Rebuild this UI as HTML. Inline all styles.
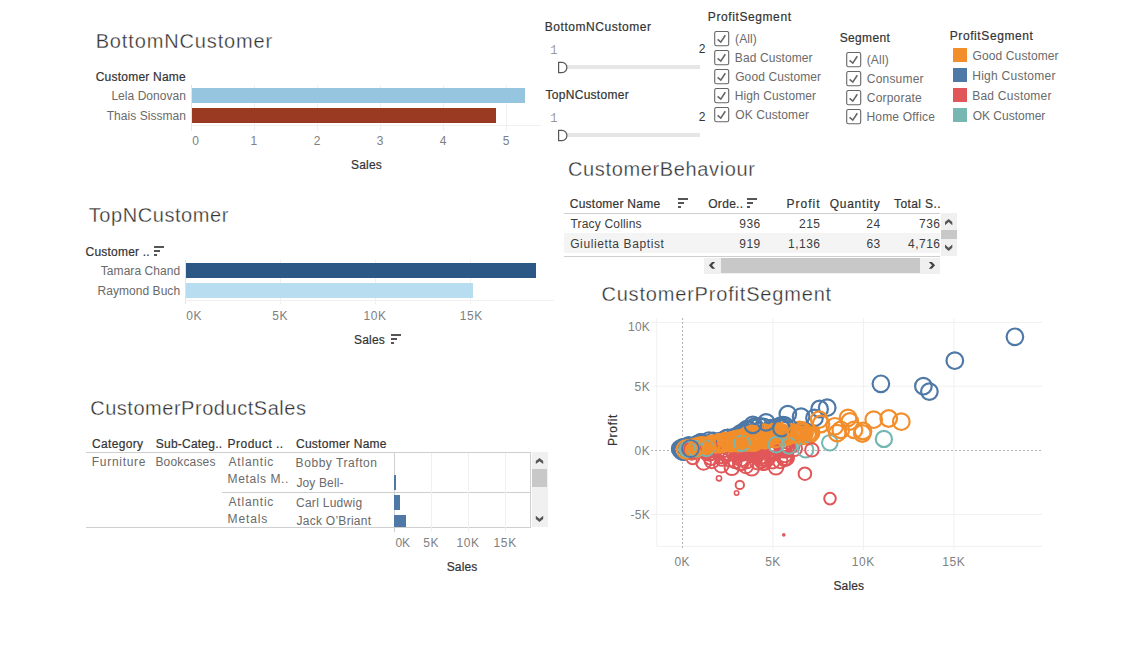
<!DOCTYPE html>
<html><head><meta charset="utf-8"><style>
html,body{margin:0;padding:0;background:#fff;width:1147px;height:668px;overflow:hidden;position:relative}
body{font-family:"Liberation Sans",sans-serif}
.t{position:absolute;white-space:nowrap}
.r{position:absolute}
</style></head><body>
<div class="t" style="left:95.66px;top:31.00px;font-size:20px;line-height:20px;color:#333;letter-spacing:0.863px;-webkit-text-stroke:0.3px #fff;">BottomNCustomer</div>
<div class="t" style="left:95.69px;top:71.00px;font-size:12px;line-height:12px;color:#333;-webkit-text-stroke:0.2px #333;letter-spacing:0.224px;">Customer Name</div>
<div class="t" style="left:111.38px;top:89.90px;font-size:12px;line-height:12px;color:#6a6a6a;letter-spacing:0.050px;">Lela Donovan</div>
<div class="t" style="left:106.69px;top:109.60px;font-size:12px;line-height:12px;color:#6a6a6a;letter-spacing:0.050px;">Thais Sissman</div>
<div class="r" style="left:254.00px;top:85.00px;width:1.00px;height:46.00px;background:#f0f0f0;"></div>
<div class="r" style="left:317.00px;top:85.00px;width:1.00px;height:46.00px;background:#f0f0f0;"></div>
<div class="r" style="left:380.00px;top:85.00px;width:1.00px;height:46.00px;background:#f0f0f0;"></div>
<div class="r" style="left:443.00px;top:85.00px;width:1.00px;height:46.00px;background:#f0f0f0;"></div>
<div class="r" style="left:506.00px;top:85.00px;width:1.00px;height:46.00px;background:#f0f0f0;"></div>
<div class="r" style="left:191.00px;top:85.00px;width:1.00px;height:46.00px;background:#e4e4e4;"></div>
<div class="r" style="left:191.00px;top:124.50px;width:350.00px;height:1.00px;background:#f0f0f0;"></div>
<div class="r" style="left:192.00px;top:88.00px;width:333.00px;height:15.00px;background:#95c5df;"></div>
<div class="r" style="left:192.00px;top:108.00px;width:304.00px;height:15.00px;background:#9b3a22;"></div>
<div class="t" style="left:192.23px;top:135.00px;font-size:12px;line-height:12px;color:#808080;">0</div>
<div class="t" style="left:250.50px;top:135.00px;font-size:12px;line-height:12px;color:#808080;">1</div>
<div class="t" style="left:313.66px;top:135.00px;font-size:12px;line-height:12px;color:#808080;">2</div>
<div class="t" style="left:376.70px;top:135.00px;font-size:12px;line-height:12px;color:#808080;">3</div>
<div class="t" style="left:439.70px;top:135.00px;font-size:12px;line-height:12px;color:#808080;">4</div>
<div class="t" style="left:502.68px;top:135.00px;font-size:12px;line-height:12px;color:#808080;">5</div>
<div class="t" style="left:351.06px;top:159.00px;font-size:12px;line-height:12px;color:#333;-webkit-text-stroke:0.2px #333;letter-spacing:0.165px;">Sales</div>
<div class="t" style="left:544.82px;top:21.00px;font-size:12px;line-height:12px;color:#333;-webkit-text-stroke:0.2px #333;letter-spacing:0.535px;">BottomNCustomer</div>
<div class="t" style="left:550.3px;top:44.9px;font-family:'Liberation Mono';font-size:12px;line-height:12px;color:#999">1</div>
<div class="t" style="left:698.80px;top:43.20px;font-size:12px;line-height:12px;color:#333;">2</div>
<div class="r" style="left:567.00px;top:65.00px;width:133.00px;height:4.00px;background:#e6e6e6;"></div>
<svg class="r" style="left:557px;top:61px" width="12" height="13"><path d="M1.6 1.4 H5 A4.9 5.1 0 0 1 5 11.6 H1.6 Z" fill="#fff" stroke="#555" stroke-width="1.2"/></svg>
<div class="t" style="left:545.53px;top:89.00px;font-size:12px;line-height:12px;color:#333;-webkit-text-stroke:0.2px #333;letter-spacing:0.286px;">TopNCustomer</div>
<div class="t" style="left:550.3px;top:112.9px;font-family:'Liberation Mono';font-size:12px;line-height:12px;color:#999">1</div>
<div class="t" style="left:698.80px;top:111.20px;font-size:12px;line-height:12px;color:#333;">2</div>
<div class="r" style="left:567.00px;top:133.00px;width:133.00px;height:4.00px;background:#e6e6e6;"></div>
<svg class="r" style="left:557px;top:129px" width="12" height="13"><path d="M1.6 1.4 H5 A4.9 5.1 0 0 1 5 11.6 H1.6 Z" fill="#fff" stroke="#555" stroke-width="1.2"/></svg>
<div class="t" style="left:707.82px;top:11.00px;font-size:12px;line-height:12px;color:#333;-webkit-text-stroke:0.2px #333;letter-spacing:0.595px;">ProfitSegment</div>
<svg class="r" style="left:714.00px;top:31.00px" width="16" height="16"><rect x="0.7" y="0.5" width="14" height="14.3" rx="1.8" fill="#fff" stroke="#666" stroke-width="1.1"/><path d="M3.6 8.4 L6.8 11.1 L11.3 4.2" fill="none" stroke="#666" stroke-width="1.6"/></svg>
<div class="t" style="left:735.06px;top:32.70px;font-size:12px;line-height:12px;color:#6a6a6a;letter-spacing:0.100px;">(All)</div>
<svg class="r" style="left:714.00px;top:50.05px" width="16" height="16"><rect x="0.7" y="0.5" width="14" height="14.3" rx="1.8" fill="#fff" stroke="#666" stroke-width="1.1"/><path d="M3.6 8.4 L6.8 11.1 L11.3 4.2" fill="none" stroke="#666" stroke-width="1.6"/></svg>
<div class="t" style="left:734.82px;top:51.75px;font-size:12px;line-height:12px;color:#6a6a6a;letter-spacing:0.100px;">Bad Customer</div>
<svg class="r" style="left:714.00px;top:69.10px" width="16" height="16"><rect x="0.7" y="0.5" width="14" height="14.3" rx="1.8" fill="#fff" stroke="#666" stroke-width="1.1"/><path d="M3.6 8.4 L6.8 11.1 L11.3 4.2" fill="none" stroke="#666" stroke-width="1.6"/></svg>
<div class="t" style="left:735.20px;top:70.80px;font-size:12px;line-height:12px;color:#6a6a6a;letter-spacing:0.100px;">Good Customer</div>
<svg class="r" style="left:714.00px;top:88.15px" width="16" height="16"><rect x="0.7" y="0.5" width="14" height="14.3" rx="1.8" fill="#fff" stroke="#666" stroke-width="1.1"/><path d="M3.6 8.4 L6.8 11.1 L11.3 4.2" fill="none" stroke="#666" stroke-width="1.6"/></svg>
<div class="t" style="left:734.82px;top:89.85px;font-size:12px;line-height:12px;color:#6a6a6a;letter-spacing:0.100px;">High Customer</div>
<svg class="r" style="left:714.00px;top:107.20px" width="16" height="16"><rect x="0.7" y="0.5" width="14" height="14.3" rx="1.8" fill="#fff" stroke="#666" stroke-width="1.1"/><path d="M3.6 8.4 L6.8 11.1 L11.3 4.2" fill="none" stroke="#666" stroke-width="1.6"/></svg>
<div class="t" style="left:735.23px;top:108.90px;font-size:12px;line-height:12px;color:#6a6a6a;letter-spacing:0.100px;">OK Customer</div>
<div class="t" style="left:839.66px;top:31.50px;font-size:12px;line-height:12px;color:#333;-webkit-text-stroke:0.2px #333;letter-spacing:0.351px;">Segment</div>
<svg class="r" style="left:846.00px;top:52.30px" width="16" height="16"><rect x="0.7" y="0.5" width="14" height="14.3" rx="1.8" fill="#fff" stroke="#666" stroke-width="1.1"/><path d="M3.6 8.4 L6.8 11.1 L11.3 4.2" fill="none" stroke="#666" stroke-width="1.6"/></svg>
<div class="t" style="left:866.66px;top:53.50px;font-size:12px;line-height:12px;color:#6a6a6a;letter-spacing:0.200px;">(All)</div>
<svg class="r" style="left:846.00px;top:71.30px" width="16" height="16"><rect x="0.7" y="0.5" width="14" height="14.3" rx="1.8" fill="#fff" stroke="#666" stroke-width="1.1"/><path d="M3.6 8.4 L6.8 11.1 L11.3 4.2" fill="none" stroke="#666" stroke-width="1.6"/></svg>
<div class="t" style="left:866.79px;top:72.50px;font-size:12px;line-height:12px;color:#6a6a6a;letter-spacing:0.200px;">Consumer</div>
<svg class="r" style="left:846.00px;top:90.30px" width="16" height="16"><rect x="0.7" y="0.5" width="14" height="14.3" rx="1.8" fill="#fff" stroke="#666" stroke-width="1.1"/><path d="M3.6 8.4 L6.8 11.1 L11.3 4.2" fill="none" stroke="#666" stroke-width="1.6"/></svg>
<div class="t" style="left:866.79px;top:91.50px;font-size:12px;line-height:12px;color:#6a6a6a;letter-spacing:0.200px;">Corporate</div>
<svg class="r" style="left:846.00px;top:109.30px" width="16" height="16"><rect x="0.7" y="0.5" width="14" height="14.3" rx="1.8" fill="#fff" stroke="#666" stroke-width="1.1"/><path d="M3.6 8.4 L6.8 11.1 L11.3 4.2" fill="none" stroke="#666" stroke-width="1.6"/></svg>
<div class="t" style="left:866.42px;top:110.50px;font-size:12px;line-height:12px;color:#6a6a6a;letter-spacing:0.200px;">Home Office</div>
<div class="t" style="left:949.72px;top:29.90px;font-size:12px;line-height:12px;color:#333;-webkit-text-stroke:0.2px #333;letter-spacing:0.595px;">ProfitSegment</div>
<div class="r" style="left:953.00px;top:48.00px;width:14.00px;height:14.00px;background:#f28e2b;"></div>
<div class="t" style="left:972.60px;top:50.20px;font-size:12px;line-height:12px;color:#6a6a6a;letter-spacing:0.109px;">Good Customer</div>
<div class="r" style="left:953.00px;top:68.00px;width:14.00px;height:14.00px;background:#4e79a7;"></div>
<div class="t" style="left:972.22px;top:70.20px;font-size:12px;line-height:12px;color:#6a6a6a;letter-spacing:0.272px;">High Customer</div>
<div class="r" style="left:953.00px;top:88.00px;width:14.00px;height:14.00px;background:#e15759;"></div>
<div class="t" style="left:972.22px;top:90.20px;font-size:12px;line-height:12px;color:#6a6a6a;letter-spacing:0.235px;">Bad Customer</div>
<div class="r" style="left:953.00px;top:108.00px;width:14.00px;height:14.00px;background:#76b7b2;"></div>
<div class="t" style="left:972.63px;top:110.20px;font-size:12px;line-height:12px;color:#6a6a6a;">OK Customer</div>
<div class="t" style="left:88.75px;top:205.20px;font-size:20px;line-height:20px;color:#333;letter-spacing:0.564px;-webkit-text-stroke:0.3px #fff;">TopNCustomer</div>
<div class="t" style="left:85.59px;top:245.70px;font-size:12px;line-height:12px;color:#333;-webkit-text-stroke:0.2px #333;letter-spacing:0.209px;">Customer ..</div>
<div class="r" style="left:154.00px;top:246.00px;width:10.00px;height:2.00px;background:#555;"></div>
<div class="r" style="left:154.00px;top:250.00px;width:6.00px;height:2.00px;background:#555;"></div>
<div class="r" style="left:154.00px;top:254.00px;width:3.00px;height:2.00px;background:#555;"></div>
<div class="t" style="left:100.82px;top:264.90px;font-size:12px;line-height:12px;color:#6a6a6a;letter-spacing:0.050px;">Tamara Chand</div>
<div class="t" style="left:97.49px;top:284.60px;font-size:12px;line-height:12px;color:#6a6a6a;letter-spacing:0.050px;">Raymond Buch</div>
<div class="r" style="left:279.80px;top:260.00px;width:1.00px;height:44.00px;background:#f0f0f0;"></div>
<div class="r" style="left:374.60px;top:260.00px;width:1.00px;height:44.00px;background:#f0f0f0;"></div>
<div class="r" style="left:470.40px;top:260.00px;width:1.00px;height:44.00px;background:#f0f0f0;"></div>
<div class="r" style="left:185.00px;top:260.00px;width:1.00px;height:44.00px;background:#e2e2e2;"></div>
<div class="r" style="left:185.00px;top:299.50px;width:369.00px;height:1.00px;background:#f0f0f0;"></div>
<div class="r" style="left:186.00px;top:263.20px;width:349.80px;height:14.60px;background:#2c5885;"></div>
<div class="r" style="left:186.00px;top:283.10px;width:286.90px;height:14.90px;background:#b8dcf0;"></div>
<div class="t" style="left:186.23px;top:310.00px;font-size:12px;line-height:12px;color:#808080;letter-spacing:0.626px;">0K</div>
<div class="t" style="left:272.24px;top:310.00px;font-size:12px;line-height:12px;color:#808080;letter-spacing:0.500px;">5K</div>
<div class="t" style="left:363.54px;top:310.00px;font-size:12px;line-height:12px;color:#808080;letter-spacing:0.500px;">10K</div>
<div class="t" style="left:459.84px;top:310.00px;font-size:12px;line-height:12px;color:#808080;letter-spacing:0.500px;">15K</div>
<div class="t" style="left:354.06px;top:334.00px;font-size:12px;line-height:12px;color:#333;-webkit-text-stroke:0.2px #333;letter-spacing:0.165px;">Sales</div>
<div class="r" style="left:391.00px;top:334.00px;width:10.00px;height:2.00px;background:#555;"></div>
<div class="r" style="left:391.00px;top:338.00px;width:6.00px;height:2.00px;background:#555;"></div>
<div class="r" style="left:391.00px;top:342.00px;width:3.00px;height:2.00px;background:#555;"></div>
<div class="t" style="left:90.18px;top:397.90px;font-size:20px;line-height:20px;color:#333;letter-spacing:0.532px;-webkit-text-stroke:0.3px #fff;">CustomerProductSales</div>
<div class="t" style="left:91.99px;top:438.00px;font-size:12px;line-height:12px;color:#333;-webkit-text-stroke:0.2px #333;letter-spacing:0.335px;">Category</div>
<div class="t" style="left:155.86px;top:438.00px;font-size:12px;line-height:12px;color:#333;-webkit-text-stroke:0.2px #333;letter-spacing:0.211px;">Sub-Categ..</div>
<div class="t" style="left:227.62px;top:438.00px;font-size:12px;line-height:12px;color:#333;-webkit-text-stroke:0.2px #333;letter-spacing:0.458px;">Product ..</div>
<div class="t" style="left:295.99px;top:438.00px;font-size:12px;line-height:12px;color:#333;-webkit-text-stroke:0.2px #333;letter-spacing:0.266px;">Customer Name</div>
<div class="r" style="left:86.00px;top:452.00px;width:445.00px;height:1.00px;background:#cfcfcf;"></div>
<div class="r" style="left:86.00px;top:527.00px;width:445.00px;height:1.00px;background:#cfcfcf;"></div>
<div class="r" style="left:222.00px;top:492.20px;width:309.00px;height:1.00px;background:#cfcfcf;"></div>
<div class="r" style="left:431.00px;top:453.00px;width:1.00px;height:79.00px;background:#f0f0f0;"></div>
<div class="r" style="left:467.90px;top:453.00px;width:1.00px;height:79.00px;background:#f0f0f0;"></div>
<div class="r" style="left:505.00px;top:453.00px;width:1.00px;height:79.00px;background:#f0f0f0;"></div>
<div class="r" style="left:394.00px;top:453.00px;width:1.00px;height:79.00px;background:#cfcfcf;"></div>
<div class="r" style="left:530.20px;top:452.00px;width:1.00px;height:76.00px;background:#cfcfcf;"></div>
<div class="r" style="left:394.40px;top:475.40px;width:1.50px;height:14.30px;background:#4e79a7;"></div>
<div class="r" style="left:394.40px;top:494.90px;width:5.50px;height:14.70px;background:#4e79a7;"></div>
<div class="r" style="left:394.40px;top:515.20px;width:11.60px;height:12.00px;background:#4e79a7;"></div>
<div class="t" style="left:91.82px;top:456.00px;font-size:12px;line-height:12px;color:#6a6a6a;letter-spacing:0.701px;">Furniture</div>
<div class="t" style="left:155.42px;top:456.00px;font-size:12px;line-height:12px;color:#6a6a6a;letter-spacing:0.165px;">Bookcases</div>
<div class="t" style="left:228.58px;top:456.10px;font-size:12px;line-height:12px;color:#6a6a6a;letter-spacing:0.770px;">Atlantic</div>
<div class="t" style="left:227.62px;top:472.60px;font-size:12px;line-height:12px;color:#6a6a6a;letter-spacing:0.593px;">Metals M..</div>
<div class="t" style="left:295.62px;top:456.90px;font-size:12px;line-height:12px;color:#6a6a6a;letter-spacing:0.555px;">Bobby Trafton</div>
<div class="t" style="left:296.41px;top:476.50px;font-size:12px;line-height:12px;color:#6a6a6a;letter-spacing:0.139px;">Joy Bell-</div>
<div class="t" style="left:228.58px;top:496.10px;font-size:12px;line-height:12px;color:#6a6a6a;letter-spacing:0.770px;">Atlantic</div>
<div class="t" style="left:227.62px;top:512.60px;font-size:12px;line-height:12px;color:#6a6a6a;letter-spacing:0.855px;">Metals</div>
<div class="t" style="left:295.99px;top:496.90px;font-size:12px;line-height:12px;color:#6a6a6a;letter-spacing:0.272px;">Carl Ludwig</div>
<div class="t" style="left:296.41px;top:515.30px;font-size:12px;line-height:12px;color:#6a6a6a;letter-spacing:0.277px;">Jack O&#8217;Briant</div>
<div class="r" style="left:532.00px;top:452.30px;width:16.00px;height:74.50px;background:#f0f0f0;"></div>
<div class="r" style="left:532.00px;top:469.00px;width:15.00px;height:18.00px;background:#c8c8c8;"></div>
<div class="t" style="left:395.53px;top:537.30px;font-size:12px;line-height:12px;color:#808080;letter-spacing:-0.074px;">0K</div>
<div class="t" style="left:423.32px;top:537.30px;font-size:12px;line-height:12px;color:#808080;letter-spacing:0.638px;">5K</div>
<div class="t" style="left:456.39px;top:537.30px;font-size:12px;line-height:12px;color:#808080;letter-spacing:0.699px;">10K</div>
<div class="t" style="left:493.49px;top:537.30px;font-size:12px;line-height:12px;color:#808080;letter-spacing:0.649px;">15K</div>
<div class="t" style="left:446.76px;top:560.80px;font-size:12px;line-height:12px;color:#333;-webkit-text-stroke:0.2px #333;letter-spacing:0.115px;">Sales</div>
<div class="t" style="left:567.98px;top:159.20px;font-size:20px;line-height:20px;color:#333;letter-spacing:0.644px;-webkit-text-stroke:0.3px #fff;">CustomerBehaviour</div>
<div class="t" style="left:569.79px;top:198.00px;font-size:12px;line-height:12px;color:#333;-webkit-text-stroke:0.2px #333;letter-spacing:0.249px;">Customer Name</div>
<div class="r" style="left:678.00px;top:198.00px;width:10.00px;height:2.00px;background:#555;"></div>
<div class="r" style="left:678.00px;top:202.00px;width:6.00px;height:2.00px;background:#555;"></div>
<div class="r" style="left:678.00px;top:206.00px;width:3.00px;height:2.00px;background:#555;"></div>
<div class="t" style="left:708.23px;top:198.00px;font-size:12px;line-height:12px;color:#333;-webkit-text-stroke:0.2px #333;letter-spacing:0.304px;">Orde..</div>
<div class="r" style="left:747.00px;top:198.00px;width:10.00px;height:2.00px;background:#555;"></div>
<div class="r" style="left:747.00px;top:202.00px;width:6.00px;height:2.00px;background:#555;"></div>
<div class="r" style="left:747.00px;top:206.00px;width:3.00px;height:2.00px;background:#555;"></div>
<div class="t" style="left:786.52px;top:198.00px;font-size:12px;line-height:12px;color:#333;-webkit-text-stroke:0.2px #333;letter-spacing:1.013px;">Profit</div>
<div class="t" style="left:829.63px;top:198.00px;font-size:12px;line-height:12px;color:#333;-webkit-text-stroke:0.2px #333;letter-spacing:0.772px;">Quantity</div>
<div class="t" style="left:894.03px;top:198.00px;font-size:12px;line-height:12px;color:#333;-webkit-text-stroke:0.2px #333;letter-spacing:0.402px;">Total S..</div>
<div class="r" style="left:564.00px;top:213.00px;width:376.20px;height:1.00px;background:#cfcfcf;"></div>
<div class="r" style="left:564.00px;top:233.20px;width:376.20px;height:19.80px;background:#f4f4f4;"></div>
<div class="r" style="left:564.00px;top:256.00px;width:376.20px;height:1.00px;background:#cfcfcf;"></div>
<div class="t" style="left:570.53px;top:217.70px;font-size:12px;line-height:12px;color:#3c3c3c;letter-spacing:0.175px;">Tracy Collins</div>
<div class="t" style="left:570.20px;top:237.50px;font-size:12px;line-height:12px;color:#3c3c3c;letter-spacing:0.603px;">Giulietta Baptist</div>
<div class="t" style="left:739.21px;top:217.70px;font-size:12px;line-height:12px;color:#3c3c3c;letter-spacing:0.500px;">936</div>
<div class="t" style="left:798.98px;top:217.70px;font-size:12px;line-height:12px;color:#3c3c3c;letter-spacing:0.500px;">215</div>
<div class="t" style="left:866.21px;top:217.70px;font-size:12px;line-height:12px;color:#3c3c3c;letter-spacing:0.500px;">24</div>
<div class="t" style="left:919.01px;top:217.70px;font-size:12px;line-height:12px;color:#3c3c3c;letter-spacing:0.500px;">736</div>
<div class="t" style="left:739.25px;top:237.50px;font-size:12px;line-height:12px;color:#3c3c3c;letter-spacing:0.500px;">919</div>
<div class="t" style="left:788.00px;top:237.50px;font-size:12px;line-height:12px;color:#3c3c3c;letter-spacing:0.500px;">1,136</div>
<div class="t" style="left:866.38px;top:237.50px;font-size:12px;line-height:12px;color:#3c3c3c;letter-spacing:0.500px;">63</div>
<div class="t" style="left:908.00px;top:237.50px;font-size:12px;line-height:12px;color:#3c3c3c;letter-spacing:0.500px;">4,716</div>
<div class="r" style="left:941.30px;top:213.00px;width:15.50px;height:42.70px;background:#f0f0f0;"></div>
<div class="r" style="left:941.30px;top:230.20px;width:15.50px;height:8.60px;background:#c8c8c8;"></div>
<div class="r" style="left:704.30px;top:258.20px;width:235.70px;height:15.60px;background:#f0f0f0;"></div>
<div class="r" style="left:721.00px;top:258.20px;width:199.00px;height:15.00px;background:#c8c8c8;"></div>
<svg class="r" style="left:0;top:0" width="1147" height="668"><polygon points="535.80,464.00 535.80,460.90 539.50,458.10 543.20,460.90 543.20,464.00 539.50,461.20" fill="#555"/></svg>
<svg class="r" style="left:0;top:0" width="1147" height="668"><polygon points="535.80,515.80 535.80,518.90 539.50,521.90 543.20,518.90 543.20,515.80 539.50,518.80" fill="#555"/></svg>
<svg class="r" style="left:0;top:0" width="1147" height="668"><polygon points="945.00,225.20 945.00,222.10 948.65,218.90 952.30,222.10 952.30,225.20 948.65,222.00" fill="#555"/></svg>
<svg class="r" style="left:0;top:0" width="1147" height="668"><polygon points="945.00,244.60 945.00,247.70 948.65,250.90 952.30,247.70 952.30,244.60 948.65,247.80" fill="#555"/></svg>
<svg class="r" style="left:0;top:0" width="1147" height="668"><polygon points="715.20,261.90 712.10,261.90 708.90,265.35 712.10,268.80 715.20,268.80 712.00,265.35" fill="#444"/></svg>
<svg class="r" style="left:0;top:0" width="1147" height="668"><polygon points="928.80,261.90 931.90,261.90 935.10,265.35 931.90,268.80 928.80,268.80 932.00,265.35" fill="#444"/></svg>
<div class="t" style="left:601.38px;top:283.90px;font-size:20px;line-height:20px;color:#333;letter-spacing:0.818px;-webkit-text-stroke:0.3px #fff;">CustomerProfitSegment</div>
<svg class="r" style="left:0;top:0" width="1147" height="668"><line x1="651" y1="322.4" x2="1042" y2="322.4" stroke="#f0f0f0" stroke-width="1"/><line x1="651" y1="386.2" x2="1042" y2="386.2" stroke="#f0f0f0" stroke-width="1"/><line x1="651" y1="514.4" x2="1042" y2="514.4" stroke="#f0f0f0" stroke-width="1"/><line x1="656.8" y1="546.3" x2="1042" y2="546.3" stroke="#f0f0f0" stroke-width="1"/><line x1="656.8" y1="318" x2="656.8" y2="546.3" stroke="#f0f0f0" stroke-width="1"/><line x1="772.9" y1="318" x2="772.9" y2="550" stroke="#f0f0f0" stroke-width="1"/><line x1="863.4" y1="318" x2="863.4" y2="550" stroke="#f0f0f0" stroke-width="1"/><line x1="953.9" y1="318" x2="953.9" y2="550" stroke="#f0f0f0" stroke-width="1"/><line x1="651" y1="450.5" x2="1042" y2="450.5" stroke="#b4b4b4" stroke-width="1" stroke-dasharray="2 2"/><line x1="682.5" y1="318" x2="682.5" y2="550" stroke="#b4b4b4" stroke-width="1" stroke-dasharray="2 2"/><circle cx="726.4" cy="438.3" r="8.3" fill="none" stroke="#4e79a7" stroke-width="2.0"/><circle cx="727.8" cy="437.8" r="8.1" fill="none" stroke="#4e79a7" stroke-width="2.0"/><circle cx="697.8" cy="443.8" r="8.1" fill="none" stroke="#4e79a7" stroke-width="2.0"/><circle cx="762.8" cy="426.4" r="7.8" fill="none" stroke="#4e79a7" stroke-width="2.0"/><circle cx="687.7" cy="447.5" r="8.2" fill="none" stroke="#4e79a7" stroke-width="2.0"/><circle cx="682.5" cy="449.5" r="8.4" fill="none" stroke="#4e79a7" stroke-width="2.0"/><circle cx="748.0" cy="430.0" r="7.7" fill="none" stroke="#4e79a7" stroke-width="2.0"/><circle cx="679.6" cy="449.4" r="7.6" fill="none" stroke="#4e79a7" stroke-width="2.0"/><circle cx="698.4" cy="442.9" r="7.6" fill="none" stroke="#4e79a7" stroke-width="2.0"/><circle cx="727.6" cy="437.7" r="8.3" fill="none" stroke="#4e79a7" stroke-width="2.0"/><circle cx="733.5" cy="436.8" r="8.0" fill="none" stroke="#4e79a7" stroke-width="2.0"/><circle cx="748.9" cy="429.3" r="7.8" fill="none" stroke="#4e79a7" stroke-width="2.0"/><circle cx="784.7" cy="425.3" r="8.3" fill="none" stroke="#4e79a7" stroke-width="2.0"/><circle cx="753.7" cy="427.2" r="7.8" fill="none" stroke="#4e79a7" stroke-width="2.0"/><circle cx="708.9" cy="440.5" r="8.2" fill="none" stroke="#4e79a7" stroke-width="2.0"/><circle cx="720.8" cy="440.3" r="7.9" fill="none" stroke="#4e79a7" stroke-width="2.0"/><circle cx="780.5" cy="426.2" r="7.6" fill="none" stroke="#4e79a7" stroke-width="2.0"/><circle cx="700.4" cy="444.0" r="8.0" fill="none" stroke="#4e79a7" stroke-width="2.0"/><circle cx="782.9" cy="424.4" r="7.7" fill="none" stroke="#4e79a7" stroke-width="2.0"/><circle cx="745.4" cy="431.3" r="7.8" fill="none" stroke="#4e79a7" stroke-width="2.0"/><circle cx="687.3" cy="446.4" r="8.4" fill="none" stroke="#4e79a7" stroke-width="2.0"/><circle cx="759.1" cy="425.9" r="7.8" fill="none" stroke="#4e79a7" stroke-width="2.0"/><circle cx="688.8" cy="445.3" r="8.2" fill="none" stroke="#4e79a7" stroke-width="2.0"/><circle cx="697.0" cy="444.1" r="8.0" fill="none" stroke="#4e79a7" stroke-width="2.0"/><circle cx="698.4" cy="444.1" r="7.7" fill="none" stroke="#4e79a7" stroke-width="2.0"/><circle cx="746.9" cy="429.2" r="7.9" fill="none" stroke="#4e79a7" stroke-width="2.0"/><circle cx="700.8" cy="442.3" r="8.4" fill="none" stroke="#4e79a7" stroke-width="2.0"/><circle cx="764.0" cy="427.1" r="8.3" fill="none" stroke="#4e79a7" stroke-width="2.0"/><circle cx="700.5" cy="442.7" r="8.3" fill="none" stroke="#4e79a7" stroke-width="2.0"/><circle cx="746.7" cy="429.2" r="8.4" fill="none" stroke="#4e79a7" stroke-width="2.0"/><circle cx="700.8" cy="442.3" r="8.2" fill="none" stroke="#4e79a7" stroke-width="2.0"/><circle cx="713.2" cy="440.3" r="7.7" fill="none" stroke="#4e79a7" stroke-width="2.0"/><circle cx="687.6" cy="447.0" r="7.8" fill="none" stroke="#4e79a7" stroke-width="2.0"/><circle cx="742.3" cy="432.1" r="8.0" fill="none" stroke="#4e79a7" stroke-width="2.0"/><circle cx="780.6" cy="425.3" r="8.1" fill="none" stroke="#4e79a7" stroke-width="2.0"/><circle cx="770.7" cy="427.4" r="7.7" fill="none" stroke="#4e79a7" stroke-width="2.0"/><circle cx="775.2" cy="427.7" r="7.8" fill="none" stroke="#4e79a7" stroke-width="2.0"/><circle cx="698.3" cy="444.2" r="8.4" fill="none" stroke="#4e79a7" stroke-width="2.0"/><circle cx="699.0" cy="444.5" r="8.3" fill="none" stroke="#4e79a7" stroke-width="2.0"/><circle cx="742.6" cy="432.1" r="7.7" fill="none" stroke="#4e79a7" stroke-width="2.0"/><circle cx="682.1" cy="449.6" r="7.8" fill="none" stroke="#4e79a7" stroke-width="2.0"/><circle cx="753.4" cy="427.2" r="8.3" fill="none" stroke="#4e79a7" stroke-width="2.0"/><circle cx="741.8" cy="432.3" r="7.7" fill="none" stroke="#4e79a7" stroke-width="2.0"/><circle cx="755.1" cy="426.1" r="7.8" fill="none" stroke="#4e79a7" stroke-width="2.0"/><circle cx="737.9" cy="436.4" r="8.1" fill="none" stroke="#4e79a7" stroke-width="2.0"/><circle cx="708.0" cy="442.7" r="7.8" fill="none" stroke="#4e79a7" stroke-width="2.0"/><circle cx="679.8" cy="448.6" r="8.0" fill="none" stroke="#4e79a7" stroke-width="2.0"/><circle cx="684.5" cy="446.9" r="7.9" fill="none" stroke="#4e79a7" stroke-width="2.0"/><circle cx="739.2" cy="433.7" r="7.9" fill="none" stroke="#4e79a7" stroke-width="2.0"/><circle cx="773.3" cy="428.7" r="8.1" fill="none" stroke="#4e79a7" stroke-width="2.0"/><circle cx="683.4" cy="449.5" r="10.3" fill="none" stroke="#4e79a7" stroke-width="2.2"/><circle cx="684.2" cy="449.2" r="9.9" fill="none" stroke="#4e79a7" stroke-width="2.2"/><circle cx="683.0" cy="450.0" r="9.6" fill="none" stroke="#4e79a7" stroke-width="2.2"/><circle cx="762.0" cy="457.0" r="6.6" fill="none" stroke="#e15759" stroke-width="2.0"/><circle cx="691.8" cy="451.7" r="8.0" fill="none" stroke="#e15759" stroke-width="2.0"/><circle cx="763.0" cy="463.7" r="6.3" fill="none" stroke="#e15759" stroke-width="2.0"/><circle cx="756.1" cy="455.6" r="7.7" fill="none" stroke="#e15759" stroke-width="2.0"/><circle cx="722.1" cy="459.4" r="6.4" fill="none" stroke="#e15759" stroke-width="2.0"/><circle cx="746.4" cy="460.5" r="8.0" fill="none" stroke="#e15759" stroke-width="2.0"/><circle cx="766.9" cy="458.7" r="7.8" fill="none" stroke="#e15759" stroke-width="2.0"/><circle cx="785.9" cy="449.8" r="7.6" fill="none" stroke="#e15759" stroke-width="2.0"/><circle cx="784.4" cy="458.9" r="7.1" fill="none" stroke="#e15759" stroke-width="2.0"/><circle cx="772.6" cy="461.0" r="7.4" fill="none" stroke="#e15759" stroke-width="2.0"/><circle cx="754.9" cy="453.8" r="7.4" fill="none" stroke="#e15759" stroke-width="2.0"/><circle cx="753.1" cy="448.4" r="7.5" fill="none" stroke="#e15759" stroke-width="2.0"/><circle cx="794.3" cy="448.4" r="7.7" fill="none" stroke="#e15759" stroke-width="2.0"/><circle cx="729.6" cy="459.1" r="7.4" fill="none" stroke="#e15759" stroke-width="2.0"/><circle cx="735.1" cy="461.8" r="6.5" fill="none" stroke="#e15759" stroke-width="2.0"/><circle cx="768.3" cy="446.6" r="7.4" fill="none" stroke="#e15759" stroke-width="2.0"/><circle cx="739.5" cy="451.5" r="7.6" fill="none" stroke="#e15759" stroke-width="2.0"/><circle cx="741.2" cy="458.2" r="8.0" fill="none" stroke="#e15759" stroke-width="2.0"/><circle cx="715.4" cy="449.8" r="6.9" fill="none" stroke="#e15759" stroke-width="2.0"/><circle cx="760.6" cy="450.2" r="6.6" fill="none" stroke="#e15759" stroke-width="2.0"/><circle cx="784.9" cy="455.2" r="7.1" fill="none" stroke="#e15759" stroke-width="2.0"/><circle cx="783.4" cy="449.9" r="7.6" fill="none" stroke="#e15759" stroke-width="2.0"/><circle cx="709.2" cy="452.9" r="7.8" fill="none" stroke="#e15759" stroke-width="2.0"/><circle cx="785.8" cy="458.7" r="7.0" fill="none" stroke="#e15759" stroke-width="2.0"/><circle cx="750.4" cy="452.9" r="6.6" fill="none" stroke="#e15759" stroke-width="2.0"/><circle cx="741.1" cy="462.1" r="7.9" fill="none" stroke="#e15759" stroke-width="2.0"/><circle cx="764.1" cy="463.3" r="6.8" fill="none" stroke="#e15759" stroke-width="2.0"/><circle cx="706.1" cy="453.0" r="6.8" fill="none" stroke="#e15759" stroke-width="2.0"/><circle cx="710.9" cy="452.8" r="7.5" fill="none" stroke="#e15759" stroke-width="2.0"/><circle cx="740.8" cy="453.0" r="7.9" fill="none" stroke="#e15759" stroke-width="2.0"/><circle cx="793.1" cy="445.8" r="6.4" fill="none" stroke="#e15759" stroke-width="2.0"/><circle cx="691.4" cy="452.5" r="6.4" fill="none" stroke="#e15759" stroke-width="2.0"/><circle cx="763.8" cy="456.6" r="6.9" fill="none" stroke="#e15759" stroke-width="2.0"/><circle cx="772.7" cy="446.2" r="6.6" fill="none" stroke="#e15759" stroke-width="2.0"/><circle cx="736.7" cy="448.1" r="7.9" fill="none" stroke="#e15759" stroke-width="2.0"/><circle cx="713.4" cy="451.0" r="6.4" fill="none" stroke="#e15759" stroke-width="2.0"/><circle cx="755.3" cy="455.0" r="7.5" fill="none" stroke="#e15759" stroke-width="2.0"/><circle cx="758.1" cy="461.4" r="8.1" fill="none" stroke="#e15759" stroke-width="2.0"/><circle cx="761.2" cy="450.1" r="7.2" fill="none" stroke="#e15759" stroke-width="2.0"/><circle cx="707.1" cy="451.0" r="7.2" fill="none" stroke="#e15759" stroke-width="2.0"/><circle cx="761.4" cy="448.5" r="7.0" fill="none" stroke="#e15759" stroke-width="2.0"/><circle cx="724.6" cy="453.5" r="7.4" fill="none" stroke="#e15759" stroke-width="2.0"/><circle cx="751.4" cy="452.5" r="7.2" fill="none" stroke="#e15759" stroke-width="2.0"/><circle cx="769.2" cy="452.5" r="6.6" fill="none" stroke="#e15759" stroke-width="2.0"/><circle cx="783.3" cy="449.7" r="6.7" fill="none" stroke="#e15759" stroke-width="2.0"/><circle cx="735.4" cy="452.5" r="8.0" fill="none" stroke="#e15759" stroke-width="2.0"/><circle cx="727.7" cy="452.6" r="8.0" fill="none" stroke="#e15759" stroke-width="2.0"/><circle cx="769.7" cy="452.7" r="7.3" fill="none" stroke="#e15759" stroke-width="2.0"/><circle cx="755.1" cy="449.0" r="7.7" fill="none" stroke="#e15759" stroke-width="2.0"/><circle cx="771.8" cy="450.8" r="7.7" fill="none" stroke="#e15759" stroke-width="2.0"/><circle cx="711.3" cy="456.7" r="8.2" fill="none" stroke="#e15759" stroke-width="2.0"/><circle cx="787.7" cy="447.8" r="7.8" fill="none" stroke="#e15759" stroke-width="2.0"/><circle cx="722.0" cy="455.2" r="8.0" fill="none" stroke="#e15759" stroke-width="2.0"/><circle cx="724.9" cy="449.8" r="7.2" fill="none" stroke="#e15759" stroke-width="2.0"/><circle cx="745.0" cy="452.9" r="7.3" fill="none" stroke="#e15759" stroke-width="2.0"/><circle cx="692.8" cy="457.6" r="6.6" fill="none" stroke="#e15759" stroke-width="2.0"/><circle cx="770.0" cy="448.1" r="7.1" fill="none" stroke="#e15759" stroke-width="2.0"/><circle cx="768.8" cy="447.9" r="6.8" fill="none" stroke="#e15759" stroke-width="2.0"/><circle cx="741.7" cy="452.8" r="7.9" fill="none" stroke="#e15759" stroke-width="2.0"/><circle cx="758.9" cy="453.3" r="7.3" fill="none" stroke="#e15759" stroke-width="2.0"/><circle cx="784.9" cy="445.6" r="6.9" fill="none" stroke="#e15759" stroke-width="2.0"/><circle cx="742.7" cy="450.2" r="7.7" fill="none" stroke="#e15759" stroke-width="2.0"/><circle cx="753.9" cy="451.0" r="7.9" fill="none" stroke="#e15759" stroke-width="2.0"/><circle cx="746.0" cy="450.1" r="7.1" fill="none" stroke="#e15759" stroke-width="2.0"/><circle cx="774.5" cy="452.2" r="6.9" fill="none" stroke="#e15759" stroke-width="2.0"/><circle cx="775.1" cy="452.6" r="7.4" fill="none" stroke="#e15759" stroke-width="2.0"/><circle cx="747.3" cy="449.4" r="7.4" fill="none" stroke="#e15759" stroke-width="2.0"/><circle cx="740.3" cy="452.2" r="6.5" fill="none" stroke="#e15759" stroke-width="2.0"/><circle cx="786.9" cy="447.8" r="7.2" fill="none" stroke="#e15759" stroke-width="2.0"/><circle cx="770.1" cy="450.4" r="7.3" fill="none" stroke="#e15759" stroke-width="2.0"/><circle cx="703.6" cy="462.5" r="7.3" fill="none" stroke="#e15759" stroke-width="2.0"/><circle cx="721.4" cy="465.2" r="7.3" fill="none" stroke="#e15759" stroke-width="2.0"/><circle cx="731.9" cy="467.8" r="7.3" fill="none" stroke="#e15759" stroke-width="2.0"/><circle cx="740.3" cy="463.0" r="7.3" fill="none" stroke="#e15759" stroke-width="2.0"/><circle cx="751.8" cy="468.3" r="7.3" fill="none" stroke="#e15759" stroke-width="2.0"/><circle cx="763.4" cy="458.9" r="7.3" fill="none" stroke="#e15759" stroke-width="2.0"/><circle cx="776.0" cy="467.3" r="7.3" fill="none" stroke="#e15759" stroke-width="2.0"/><circle cx="780.1" cy="461.0" r="7.3" fill="none" stroke="#e15759" stroke-width="2.0"/><circle cx="786.7" cy="458.0" r="7.3" fill="none" stroke="#e15759" stroke-width="2.0"/><circle cx="761.6" cy="460.7" r="7.3" fill="none" stroke="#e15759" stroke-width="2.0"/><circle cx="712.0" cy="461.0" r="7.3" fill="none" stroke="#e15759" stroke-width="2.0"/><circle cx="746.0" cy="466.0" r="7.3" fill="none" stroke="#e15759" stroke-width="2.0"/><circle cx="774.0" cy="431.5" r="7.9" fill="none" stroke="#f28e2b" stroke-width="2.0"/><circle cx="739.9" cy="443.0" r="8.3" fill="none" stroke="#f28e2b" stroke-width="2.0"/><circle cx="722.1" cy="442.5" r="7.5" fill="none" stroke="#f28e2b" stroke-width="2.0"/><circle cx="742.3" cy="441.8" r="8.3" fill="none" stroke="#f28e2b" stroke-width="2.0"/><circle cx="747.6" cy="437.2" r="7.6" fill="none" stroke="#f28e2b" stroke-width="2.0"/><circle cx="765.0" cy="441.2" r="7.5" fill="none" stroke="#f28e2b" stroke-width="2.0"/><circle cx="784.9" cy="429.5" r="7.6" fill="none" stroke="#f28e2b" stroke-width="2.0"/><circle cx="717.0" cy="444.1" r="7.7" fill="none" stroke="#f28e2b" stroke-width="2.0"/><circle cx="732.7" cy="441.6" r="7.5" fill="none" stroke="#f28e2b" stroke-width="2.0"/><circle cx="778.9" cy="431.4" r="7.9" fill="none" stroke="#f28e2b" stroke-width="2.0"/><circle cx="719.8" cy="442.0" r="7.9" fill="none" stroke="#f28e2b" stroke-width="2.0"/><circle cx="742.7" cy="438.6" r="7.8" fill="none" stroke="#f28e2b" stroke-width="2.0"/><circle cx="754.1" cy="434.9" r="7.6" fill="none" stroke="#f28e2b" stroke-width="2.0"/><circle cx="766.7" cy="438.2" r="7.9" fill="none" stroke="#f28e2b" stroke-width="2.0"/><circle cx="793.7" cy="434.5" r="8.3" fill="none" stroke="#f28e2b" stroke-width="2.0"/><circle cx="717.6" cy="444.2" r="8.2" fill="none" stroke="#f28e2b" stroke-width="2.0"/><circle cx="800.0" cy="431.2" r="7.7" fill="none" stroke="#f28e2b" stroke-width="2.0"/><circle cx="802.5" cy="430.3" r="8.4" fill="none" stroke="#f28e2b" stroke-width="2.0"/><circle cx="798.2" cy="429.8" r="7.6" fill="none" stroke="#f28e2b" stroke-width="2.0"/><circle cx="778.4" cy="433.0" r="7.5" fill="none" stroke="#f28e2b" stroke-width="2.0"/><circle cx="791.4" cy="432.9" r="8.2" fill="none" stroke="#f28e2b" stroke-width="2.0"/><circle cx="704.5" cy="445.5" r="8.1" fill="none" stroke="#f28e2b" stroke-width="2.0"/><circle cx="691.2" cy="447.8" r="8.1" fill="none" stroke="#f28e2b" stroke-width="2.0"/><circle cx="801.1" cy="436.3" r="7.5" fill="none" stroke="#f28e2b" stroke-width="2.0"/><circle cx="751.2" cy="440.5" r="7.9" fill="none" stroke="#f28e2b" stroke-width="2.0"/><circle cx="773.3" cy="432.9" r="7.5" fill="none" stroke="#f28e2b" stroke-width="2.0"/><circle cx="702.1" cy="445.0" r="8.0" fill="none" stroke="#f28e2b" stroke-width="2.0"/><circle cx="752.3" cy="438.7" r="7.5" fill="none" stroke="#f28e2b" stroke-width="2.0"/><circle cx="711.7" cy="443.5" r="8.2" fill="none" stroke="#f28e2b" stroke-width="2.0"/><circle cx="810.8" cy="434.1" r="7.5" fill="none" stroke="#f28e2b" stroke-width="2.0"/><circle cx="696.6" cy="448.0" r="7.9" fill="none" stroke="#f28e2b" stroke-width="2.0"/><circle cx="783.1" cy="433.0" r="7.9" fill="none" stroke="#f28e2b" stroke-width="2.0"/><circle cx="752.4" cy="437.5" r="8.0" fill="none" stroke="#f28e2b" stroke-width="2.0"/><circle cx="690.6" cy="448.9" r="8.2" fill="none" stroke="#f28e2b" stroke-width="2.0"/><circle cx="711.3" cy="444.4" r="8.1" fill="none" stroke="#f28e2b" stroke-width="2.0"/><circle cx="738.9" cy="438.1" r="7.6" fill="none" stroke="#f28e2b" stroke-width="2.0"/><circle cx="752.0" cy="433.8" r="8.3" fill="none" stroke="#f28e2b" stroke-width="2.0"/><circle cx="787.6" cy="436.2" r="8.3" fill="none" stroke="#f28e2b" stroke-width="2.0"/><circle cx="766.4" cy="435.9" r="8.0" fill="none" stroke="#f28e2b" stroke-width="2.0"/><circle cx="751.0" cy="442.5" r="8.2" fill="none" stroke="#f28e2b" stroke-width="2.0"/><circle cx="720.8" cy="444.3" r="8.1" fill="none" stroke="#f28e2b" stroke-width="2.0"/><circle cx="784.7" cy="437.9" r="7.8" fill="none" stroke="#f28e2b" stroke-width="2.0"/><circle cx="799.3" cy="435.9" r="8.1" fill="none" stroke="#f28e2b" stroke-width="2.0"/><circle cx="783.4" cy="437.6" r="7.8" fill="none" stroke="#f28e2b" stroke-width="2.0"/><circle cx="777.9" cy="431.0" r="7.7" fill="none" stroke="#f28e2b" stroke-width="2.0"/><circle cx="746.7" cy="435.0" r="7.8" fill="none" stroke="#f28e2b" stroke-width="2.0"/><circle cx="767.6" cy="438.0" r="7.6" fill="none" stroke="#f28e2b" stroke-width="2.0"/><circle cx="805.2" cy="433.3" r="7.7" fill="none" stroke="#f28e2b" stroke-width="2.0"/><circle cx="770.2" cy="437.2" r="7.9" fill="none" stroke="#f28e2b" stroke-width="2.0"/><circle cx="736.9" cy="443.4" r="8.0" fill="none" stroke="#f28e2b" stroke-width="2.0"/><circle cx="775.3" cy="438.9" r="8.4" fill="none" stroke="#f28e2b" stroke-width="2.0"/><circle cx="691.8" cy="448.5" r="8.1" fill="none" stroke="#f28e2b" stroke-width="2.0"/><circle cx="720.6" cy="442.5" r="7.5" fill="none" stroke="#f28e2b" stroke-width="2.0"/><circle cx="713.0" cy="443.8" r="7.5" fill="none" stroke="#f28e2b" stroke-width="2.0"/><circle cx="719.9" cy="444.4" r="8.0" fill="none" stroke="#f28e2b" stroke-width="2.0"/><circle cx="751.5" cy="442.4" r="8.0" fill="none" stroke="#f28e2b" stroke-width="2.0"/><circle cx="811.4" cy="432.8" r="8.2" fill="none" stroke="#f28e2b" stroke-width="2.0"/><circle cx="698.4" cy="446.9" r="8.2" fill="none" stroke="#f28e2b" stroke-width="2.0"/><circle cx="694.5" cy="448.4" r="7.6" fill="none" stroke="#f28e2b" stroke-width="2.0"/><circle cx="747.0" cy="436.2" r="7.9" fill="none" stroke="#f28e2b" stroke-width="2.0"/><circle cx="764.2" cy="432.6" r="8.3" fill="none" stroke="#f28e2b" stroke-width="2.0"/><circle cx="740.7" cy="440.0" r="8.0" fill="none" stroke="#f28e2b" stroke-width="2.0"/><circle cx="734.0" cy="439.6" r="8.1" fill="none" stroke="#f28e2b" stroke-width="2.0"/><circle cx="758.0" cy="435.6" r="8.1" fill="none" stroke="#f28e2b" stroke-width="2.0"/><circle cx="725.4" cy="440.2" r="7.6" fill="none" stroke="#f28e2b" stroke-width="2.0"/><circle cx="694.3" cy="447.0" r="8.2" fill="none" stroke="#f28e2b" stroke-width="2.0"/><circle cx="737.0" cy="442.8" r="8.1" fill="none" stroke="#f28e2b" stroke-width="2.0"/><circle cx="695.2" cy="448.4" r="8.3" fill="none" stroke="#f28e2b" stroke-width="2.0"/><circle cx="698.0" cy="447.6" r="7.8" fill="none" stroke="#f28e2b" stroke-width="2.0"/><circle cx="747.7" cy="442.6" r="7.6" fill="none" stroke="#f28e2b" stroke-width="2.0"/><circle cx="753.4" cy="442.0" r="8.1" fill="none" stroke="#f28e2b" stroke-width="2.0"/><circle cx="746.6" cy="442.7" r="8.2" fill="none" stroke="#f28e2b" stroke-width="2.0"/><circle cx="763.2" cy="433.3" r="8.0" fill="none" stroke="#f28e2b" stroke-width="2.0"/><circle cx="745.0" cy="436.8" r="7.5" fill="none" stroke="#f28e2b" stroke-width="2.0"/><circle cx="754.0" cy="434.5" r="7.8" fill="none" stroke="#f28e2b" stroke-width="2.0"/><circle cx="771.2" cy="435.9" r="7.7" fill="none" stroke="#f28e2b" stroke-width="2.0"/><circle cx="760.6" cy="436.6" r="8.2" fill="none" stroke="#f28e2b" stroke-width="2.0"/><circle cx="754.3" cy="442.5" r="8.4" fill="none" stroke="#f28e2b" stroke-width="2.0"/><circle cx="779.3" cy="432.6" r="7.5" fill="none" stroke="#f28e2b" stroke-width="2.0"/><circle cx="798.8" cy="435.2" r="8.0" fill="none" stroke="#f28e2b" stroke-width="2.0"/><circle cx="733.2" cy="439.7" r="8.1" fill="none" stroke="#f28e2b" stroke-width="2.0"/><circle cx="758.5" cy="438.4" r="8.0" fill="none" stroke="#f28e2b" stroke-width="2.0"/><circle cx="781.7" cy="431.7" r="7.6" fill="none" stroke="#f28e2b" stroke-width="2.0"/><circle cx="809.5" cy="434.3" r="8.3" fill="none" stroke="#f28e2b" stroke-width="2.0"/><circle cx="693.9" cy="446.9" r="7.7" fill="none" stroke="#f28e2b" stroke-width="2.0"/><circle cx="741.3" cy="440.5" r="7.5" fill="none" stroke="#f28e2b" stroke-width="2.0"/><circle cx="755.6" cy="433.9" r="7.5" fill="none" stroke="#f28e2b" stroke-width="2.0"/><circle cx="772.2" cy="436.8" r="8.0" fill="none" stroke="#f28e2b" stroke-width="2.0"/><circle cx="734.9" cy="440.5" r="7.6" fill="none" stroke="#f28e2b" stroke-width="2.0"/><circle cx="731.3" cy="442.4" r="8.2" fill="none" stroke="#f28e2b" stroke-width="2.0"/><circle cx="698.1" cy="446.0" r="8.2" fill="none" stroke="#f28e2b" stroke-width="2.0"/><circle cx="765.7" cy="439.6" r="7.6" fill="none" stroke="#f28e2b" stroke-width="2.0"/><circle cx="741.2" cy="438.0" r="8.2" fill="none" stroke="#f28e2b" stroke-width="2.0"/><circle cx="734.4" cy="441.6" r="8.4" fill="none" stroke="#f28e2b" stroke-width="2.0"/><circle cx="729.0" cy="441.7" r="8.1" fill="none" stroke="#f28e2b" stroke-width="2.0"/><circle cx="802.3" cy="431.9" r="7.8" fill="none" stroke="#f28e2b" stroke-width="2.0"/><circle cx="700.9" cy="447.3" r="7.5" fill="none" stroke="#f28e2b" stroke-width="2.0"/><circle cx="699.2" cy="446.7" r="7.9" fill="none" stroke="#f28e2b" stroke-width="2.0"/><circle cx="773.3" cy="434.0" r="8.2" fill="none" stroke="#f28e2b" stroke-width="2.0"/><circle cx="698.4" cy="446.1" r="8.1" fill="none" stroke="#f28e2b" stroke-width="2.0"/><circle cx="699.1" cy="446.2" r="8.1" fill="none" stroke="#f28e2b" stroke-width="2.0"/><circle cx="774.4" cy="433.8" r="7.5" fill="none" stroke="#f28e2b" stroke-width="2.0"/><circle cx="733.0" cy="442.1" r="7.8" fill="none" stroke="#f28e2b" stroke-width="2.0"/><circle cx="703.4" cy="446.4" r="8.0" fill="none" stroke="#f28e2b" stroke-width="2.0"/><circle cx="802.0" cy="435.9" r="8.3" fill="none" stroke="#f28e2b" stroke-width="2.0"/><circle cx="742.9" cy="441.7" r="7.7" fill="none" stroke="#f28e2b" stroke-width="2.0"/><circle cx="728.1" cy="441.2" r="8.3" fill="none" stroke="#f28e2b" stroke-width="2.0"/><circle cx="799.1" cy="430.7" r="7.8" fill="none" stroke="#f28e2b" stroke-width="2.0"/><circle cx="734.0" cy="440.0" r="7.8" fill="none" stroke="#f28e2b" stroke-width="2.0"/><circle cx="736.7" cy="438.5" r="8.0" fill="none" stroke="#f28e2b" stroke-width="2.0"/><circle cx="787.0" cy="434.6" r="8.2" fill="none" stroke="#f28e2b" stroke-width="2.0"/><circle cx="758.2" cy="434.5" r="8.2" fill="none" stroke="#f28e2b" stroke-width="2.0"/><circle cx="797.4" cy="431.1" r="7.4" fill="none" stroke="#f28e2b" stroke-width="2.0"/><circle cx="752.4" cy="438.5" r="8.0" fill="none" stroke="#f28e2b" stroke-width="2.0"/><circle cx="807.9" cy="432.8" r="8.2" fill="none" stroke="#f28e2b" stroke-width="2.0"/><circle cx="686.0" cy="449.5" r="9.2" fill="none" stroke="#f28e2b" stroke-width="2.2"/><circle cx="689.5" cy="449.3" r="9.4" fill="none" stroke="#f28e2b" stroke-width="2.2"/><circle cx="694.0" cy="449.0" r="9.2" fill="none" stroke="#f28e2b" stroke-width="2.2"/><circle cx="692.5" cy="450.0" r="8.6" fill="none" stroke="#e15759" stroke-width="1.6"/><circle cx="687.5" cy="449.3" r="7.8" fill="none" stroke="#76b7b2" stroke-width="2.0"/><circle cx="696.4" cy="448.6" r="7.8" fill="none" stroke="#76b7b2" stroke-width="2.0"/><circle cx="706.4" cy="448.4" r="7.8" fill="none" stroke="#76b7b2" stroke-width="2.0"/><circle cx="742.0" cy="443.3" r="7.8" fill="none" stroke="#76b7b2" stroke-width="2.0"/><circle cx="776.3" cy="444.6" r="7.8" fill="none" stroke="#76b7b2" stroke-width="2.0"/><circle cx="789.0" cy="445.9" r="7.8" fill="none" stroke="#76b7b2" stroke-width="2.0"/><circle cx="805.6" cy="449.7" r="7.8" fill="none" stroke="#76b7b2" stroke-width="2.0"/><circle cx="829.8" cy="442.8" r="7.8" fill="none" stroke="#76b7b2" stroke-width="2.0"/><circle cx="696.9" cy="447.1" r="8.2" fill="none" stroke="#f28e2b" stroke-width="2.0"/><circle cx="699.3" cy="445.6" r="8.1" fill="none" stroke="#f28e2b" stroke-width="2.0"/><circle cx="799.6" cy="429.4" r="8.0" fill="none" stroke="#f28e2b" stroke-width="2.0"/><circle cx="706.7" cy="446.0" r="8.0" fill="none" stroke="#f28e2b" stroke-width="2.0"/><circle cx="719.2" cy="442.2" r="8.2" fill="none" stroke="#f28e2b" stroke-width="2.0"/><circle cx="753.2" cy="440.5" r="7.8" fill="none" stroke="#f28e2b" stroke-width="2.0"/><circle cx="730.6" cy="443.6" r="8.1" fill="none" stroke="#f28e2b" stroke-width="2.0"/><circle cx="749.7" cy="438.8" r="8.1" fill="none" stroke="#f28e2b" stroke-width="2.0"/><circle cx="690.5" cy="448.6" r="8.4" fill="none" stroke="#4e79a7" stroke-width="1.8"/><circle cx="1014.9" cy="336.8" r="8.3" fill="none" stroke="#4e79a7" stroke-width="2.2"/><circle cx="954.8" cy="360.7" r="8.3" fill="none" stroke="#4e79a7" stroke-width="2.2"/><circle cx="880.9" cy="383.8" r="8.3" fill="none" stroke="#4e79a7" stroke-width="2.2"/><circle cx="923.4" cy="386.2" r="8.3" fill="none" stroke="#4e79a7" stroke-width="2.2"/><circle cx="929.4" cy="391.6" r="8.3" fill="none" stroke="#4e79a7" stroke-width="2.2"/><circle cx="752.8" cy="424.9" r="8.3" fill="none" stroke="#4e79a7" stroke-width="2.2"/><circle cx="766.2" cy="422.4" r="8.3" fill="none" stroke="#4e79a7" stroke-width="2.2"/><circle cx="787.8" cy="414.1" r="8.3" fill="none" stroke="#4e79a7" stroke-width="2.2"/><circle cx="801.1" cy="416.6" r="8.3" fill="none" stroke="#4e79a7" stroke-width="2.2"/><circle cx="781.4" cy="428.1" r="8.3" fill="none" stroke="#4e79a7" stroke-width="2.2"/><circle cx="819.6" cy="409.0" r="8.3" fill="none" stroke="#4e79a7" stroke-width="2.2"/><circle cx="827.2" cy="407.7" r="8.3" fill="none" stroke="#4e79a7" stroke-width="2.2"/><circle cx="814.5" cy="417.9" r="8.3" fill="none" stroke="#4e79a7" stroke-width="2.2"/><circle cx="873.7" cy="419.7" r="8.3" fill="none" stroke="#f28e2b" stroke-width="2.2"/><circle cx="888.7" cy="418.5" r="8.3" fill="none" stroke="#f28e2b" stroke-width="2.2"/><circle cx="901.3" cy="421.7" r="8.3" fill="none" stroke="#f28e2b" stroke-width="2.2"/><circle cx="848.0" cy="417.9" r="8.3" fill="none" stroke="#f28e2b" stroke-width="2.2"/><circle cx="849.8" cy="421.5" r="8.3" fill="none" stroke="#f28e2b" stroke-width="2.2"/><circle cx="863.0" cy="431.0" r="8.3" fill="none" stroke="#f28e2b" stroke-width="2.2"/><circle cx="862.3" cy="433.5" r="8.3" fill="none" stroke="#f28e2b" stroke-width="2.2"/><circle cx="854.0" cy="429.9" r="8.3" fill="none" stroke="#f28e2b" stroke-width="2.2"/><circle cx="840.8" cy="429.9" r="8.3" fill="none" stroke="#f28e2b" stroke-width="2.2"/><circle cx="834.8" cy="426.3" r="8.3" fill="none" stroke="#f28e2b" stroke-width="2.2"/><circle cx="837.2" cy="433.1" r="8.3" fill="none" stroke="#f28e2b" stroke-width="2.2"/><circle cx="819.2" cy="419.6" r="8.3" fill="none" stroke="#f28e2b" stroke-width="2.2"/><circle cx="821.0" cy="424.0" r="8.3" fill="none" stroke="#f28e2b" stroke-width="2.2"/><circle cx="804.0" cy="432.2" r="8.3" fill="none" stroke="#f28e2b" stroke-width="2.2"/><circle cx="802.0" cy="431.0" r="8.3" fill="none" stroke="#f28e2b" stroke-width="2.2"/><circle cx="796.0" cy="434.0" r="8.3" fill="none" stroke="#f28e2b" stroke-width="2.2"/><circle cx="808.0" cy="436.0" r="8.3" fill="none" stroke="#f28e2b" stroke-width="2.2"/><circle cx="883.9" cy="438.9" r="8.1" fill="none" stroke="#76b7b2" stroke-width="2.2"/><circle cx="811.9" cy="449.9" r="6.7" fill="none" stroke="#e15759" stroke-width="2.0"/><circle cx="804.9" cy="473.7" r="6.3" fill="none" stroke="#e15759" stroke-width="2.0"/><circle cx="830.0" cy="498.6" r="5.8" fill="none" stroke="#e15759" stroke-width="2.0"/><circle cx="719.0" cy="478.3" r="2.6" fill="none" stroke="#e15759" stroke-width="1.6"/><circle cx="739.8" cy="484.9" r="4.2" fill="none" stroke="#e15759" stroke-width="2.0"/><circle cx="736.6" cy="493.0" r="2.2" fill="none" stroke="#e15759" stroke-width="1.6"/><circle cx="783.8" cy="534.9" r="1.8" fill="#e15759"/></svg>
<div class="t" style="left:628.09px;top:321.00px;font-size:12px;line-height:12px;color:#808080;letter-spacing:0.199px;">10K</div>
<div class="t" style="left:634.52px;top:381.00px;font-size:12px;line-height:12px;color:#808080;letter-spacing:0.638px;">5K</div>
<div class="t" style="left:634.53px;top:445.30px;font-size:12px;line-height:12px;color:#808080;letter-spacing:0.626px;">0K</div>
<div class="t" style="left:630.47px;top:509.30px;font-size:12px;line-height:12px;color:#808080;letter-spacing:0.347px;">-5K</div>
<div class="t" style="left:674.44px;top:556.00px;font-size:12px;line-height:12px;color:#808080;letter-spacing:0.500px;">0K</div>
<div class="t" style="left:765.14px;top:556.00px;font-size:12px;line-height:12px;color:#808080;letter-spacing:0.500px;">5K</div>
<div class="t" style="left:851.84px;top:556.00px;font-size:12px;line-height:12px;color:#808080;letter-spacing:0.500px;">10K</div>
<div class="t" style="left:942.34px;top:556.00px;font-size:12px;line-height:12px;color:#808080;letter-spacing:0.500px;">15K</div>
<div class="t" style="left:833.46px;top:579.80px;font-size:12px;line-height:12px;color:#333;-webkit-text-stroke:0.2px #333;letter-spacing:0.140px;">Sales</div>
<div class="t" style="left:595px;top:424px;width:36px;text-align:center;font-size:12px;line-height:12px;color:#333;-webkit-text-stroke:0.2px #333;letter-spacing:0.7px;transform:rotate(-90deg);transform-origin:18px 6px">Profit</div>
</body></html>
